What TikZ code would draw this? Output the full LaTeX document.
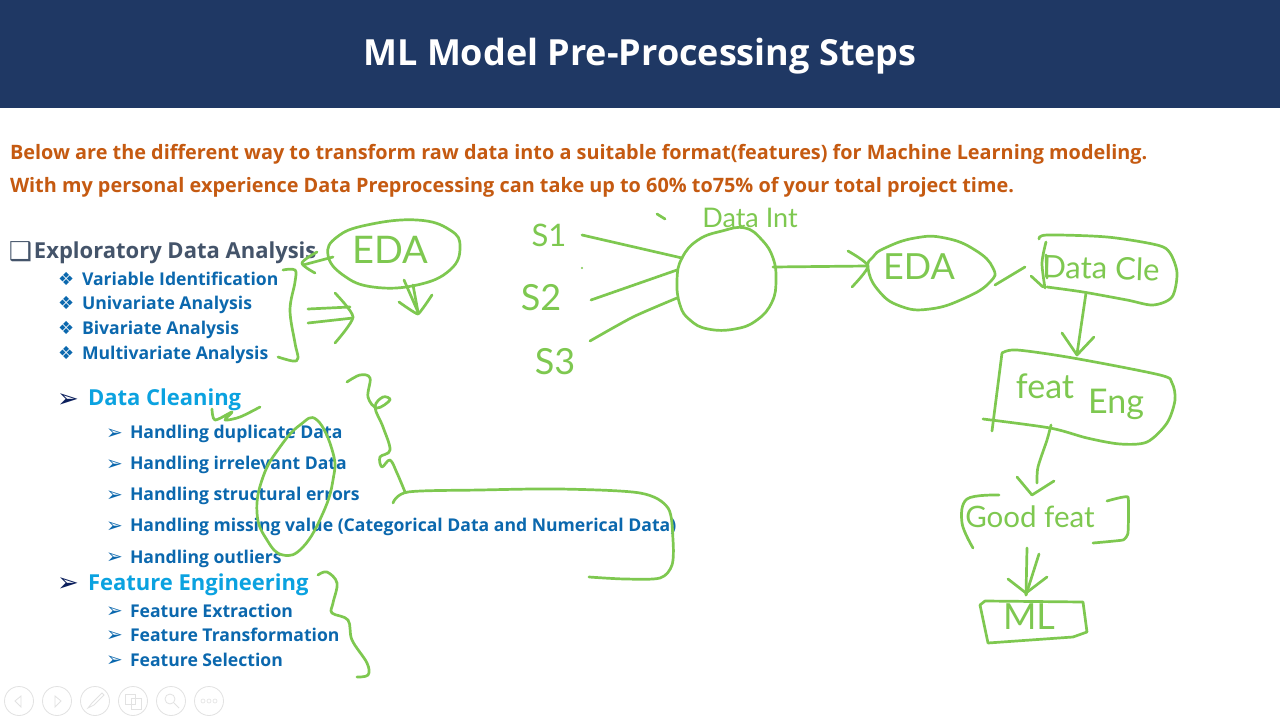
\documentclass[tikz,border=0pt]{standalone}
\usepackage{fontspec}
\setmainfont{Open Sans}
\newfontfamily\symfont{DejaVu Sans}
\newfontfamily\handfont{Lato}
\definecolor{band}{HTML}{1F3864}
\definecolor{rust}{HTML}{C55A11}
\definecolor{slatetx}{HTML}{44546A}
\definecolor{bluetx}{HTML}{0B68AE}
\definecolor{skytx}{HTML}{0BA2E0}
\definecolor{navyarrow}{HTML}{0B1F5C}
\definecolor{inkgreen}{HTML}{7EC850}
\definecolor{navgray}{HTML}{E2E2E2}
\tikzset{
  txt/.style={anchor=base west,inner sep=0pt,outer sep=0pt},
  headtx/.style={txt,font=\fontsize{36}{42}\selectfont\bfseries,text=white},
  introtx/.style={txt,font=\fontsize{19.85}{24}\selectfont\bfseries,text=rust},
  edatx/.style={txt,font=\fontsize{22}{26}\selectfont\bfseries,text=slatetx},
  subtx/.style={txt,font=\fontsize{17.6}{22}\selectfont\bfseries,text=bluetx},
  sectx/.style={txt,font=\fontsize{22}{26}\selectfont\bfseries,text=skytx},
  diam/.style={txt,font=\fontsize{18}{20}\selectfont\symfont,text=bluetx},
  arrowsub/.style={txt,font=\fontsize{20}{22}\selectfont\symfont,text=bluetx},
  arrowsec/.style={txt,font=\fontsize{26}{28}\selectfont\symfont,text=navyarrow},
  ink/.style={draw=inkgreen,line width=2.7pt,line cap=round,line join=round},
  hand/.style={inner sep=0pt,text=inkgreen,font=\handfont},
  nav/.style={draw=navgray,line width=0.8pt},
}
\begin{document}
\begin{tikzpicture}[x=1pt,y=-1pt]
\useasboundingbox (0,0) rectangle (1280,720);
\fill[white] (0,0) rectangle (1280,720);
\fill[band] (0,0) rectangle (1280,108);

\node[headtx,anchor=base] (title) at (640,65) {ML Model Pre-Processing Steps};
\node[introtx] (intro1) at (10,159) {Below are the different way to transform raw data into a suitable format(features) for Machine Learning modeling.};
\node[introtx] (intro2) at (10,192) {With my personal experience Data Preprocessing can take up to 60\% to75\% of your total project time.};

\node[txt,font=\fontsize{26}{28}\selectfont\symfont,text=slatetx] (b0) at (9,260) {❑};
\node[edatx] (eda) at (34,258) {Exploratory Data Analysis};

\node[diam] (d1) at (58,285) {❖};
\node[subtx] (v1) at (82,285) {Variable Identification};
\node[diam] (d2) at (58,309) {❖};
\node[subtx] (v2) at (82,309) {Univariate Analysis};
\node[diam] (d3) at (58,334) {❖};
\node[subtx] (v3) at (82,334) {Bivariate Analysis};
\node[diam] (d4) at (58,359) {❖};
\node[subtx] (v4) at (82,359) {Multivariate Analysis};

\node[arrowsec] (a1) at (57,407) {➢};
\node[sectx] (dc) at (88,405) {Data Cleaning};
\node[arrowsub] (a2) at (106,439) {➢};
\node[subtx] (h1) at (130,438) {Handling duplicate Data};
\node[arrowsub] (a3) at (106,470) {➢};
\node[subtx] (h2) at (130,469) {Handling irrelevant Data};
\node[arrowsub] (a4) at (106,501) {➢};
\node[subtx] (h3) at (130,500) {Handling structural errors};
\node[arrowsub] (a5) at (106,532) {➢};
\node[subtx] (h4) at (130,531) {Handling missing value (Categorical Data and Numerical Data)};
\node[arrowsub] (a6) at (106,563) {➢};
\node[subtx] (h5) at (130,563) {Handling outliers};
\node[arrowsec] (a7) at (57,591) {➢};
\node[sectx] (fe) at (88,590) {Feature Engineering};
\node[arrowsub] (a8) at (106,617) {➢};
\node[subtx] (f1) at (130,617) {Feature Extraction};
\node[arrowsub] (a9) at (106,641) {➢};
\node[subtx] (f2) at (130,641) {Feature Transformation};
\node[arrowsub] (a10) at (106,666) {➢};
\node[subtx] (f3) at (130,666) {Feature Selection};

% slide-show controls
\foreach \cx/\nm in {19/n1,57/n2,95/n3,133/n4,171/n5,209/n6}{\draw[nav] (\cx,701) circle (14.5);}
\draw[nav] (21,696) -- (15,701) -- (21,707) -- cycle;
\draw[nav] (55,696) -- (61,701) -- (55,707) -- cycle;
\draw[nav] (88,708) -- (92,703) -- (102,693) -- (104,695) -- (94,705) -- cycle;
\draw[nav] (125,694) rectangle (135,704);
\draw[nav] (131,698) rectangle (141,709);
\draw[nav] (170,699) circle (5);
\draw[nav] (174,703) -- (179,708);
\foreach \dx in {203,209,215}{\draw[nav,line width=0.6pt] (\dx,701) circle (2);}

% hand-written labels
\node[hand,font=\handfont\fontsize{38}{44}\selectfont] (edaA) at (390,250) {EDA};
\node[hand,font=\handfont\fontsize{36}{42}\selectfont] (edaB) at (919,267) {EDA};
\node[hand,font=\handfont\fontsize{31}{36}\selectfont] (s1) at (549,235) {S1};
\node[hand,font=\handfont\fontsize{36}{40}\selectfont] (s2) at (541,298) {S2};
\node[hand,font=\handfont\fontsize{36}{40}\selectfont] (s3) at (555,362) {S3};
\node[hand,font=\handfont\fontsize{27}{32}\selectfont] (dint) at (750,218) {Data Int};
\node[hand,font=\handfont\fontsize{31}{36}\selectfont,rotate=-2] (dcl) at (1101,268) {Data Cle};
\node[hand,font=\handfont\fontsize{34}{38}\selectfont] (fea) at (1045,386) {feat};
\node[hand,font=\handfont\fontsize{34}{38}\selectfont] (eng) at (1116,404) {Eng};
\node[hand,font=\handfont\fontsize{29.5}{34}\selectfont] (gf) at (1030,517) {Good feat};
\node[hand,font=\handfont\fontsize{36}{40}\selectfont] (ml) at (1029,617) {ML};

% connector ends
\coordinate (s1o) at (582,235); \coordinate (hubA) at (682,258);
\coordinate (s2o) at (591,300); \coordinate (hubB) at (677,270);
\coordinate (s3o) at (590,341); \coordinate (s3m) at (633,317); \coordinate (hubC) at (677,298);
\coordinate (hubR) at (773,267); \coordinate (edaBl) at (867,266);
\coordinate (ebR) at (995,285); \coordinate (dcL) at (1025,267);
\coordinate (dcB) at (1086,293); \coordinate (feT) at (1077,354);
\coordinate (feB) at (1051,425); \coordinate (gfT) at (1032,495);
\coordinate (gfB1) at (1027,548); \coordinate (gfB2) at (1039,554); \coordinate (mlT) at (1026,595);
\coordinate (eaL) at (333,257); \coordinate (eaT) at (303,265);
\coordinate (eaB1) at (404,280); \coordinate (eaB2) at (413,285); \coordinate (eaD) at (418,312);

% EDA (left) and its marks
\draw[ink] plot[smooth cycle,tension=0.75] coordinates {(328,255)(337,237)(367,225)(417,220)(450,230)(460,247)(450,270)(417,285)(373,287)(343,275)};
\draw[ink] (eaL) -- (eaT);
\draw[ink] plot[smooth,tension=0.5] coordinates {(317,252)(302,263)(315,273)};
\draw[ink] plot[smooth,tension=0.6] coordinates {(283,270)(295,270)(295,282)(290,310)(295,343)(298,358)(293,361)(278,357)};
\draw[ink] (308,309) -- (350,307);
\draw[ink] (308,323) -- (353,318);
\draw[ink] plot[smooth,tension=0.4] coordinates {(335,293)(353,317)(335,343)};
\draw[ink] (eaB1) -- (eaD);
\draw[ink] (eaB2) -- (eaD);
\draw[ink] plot[smooth,tension=0.2] coordinates {(399,302)(418,314)(432,295)};

% data cleaning marks
\draw[ink] plot[smooth,tension=0.5] coordinates {(212,409)(215,420)(232,412)(225,420)(240,417)(260,407)};
\draw[ink] plot[smooth cycle,tension=0.75] coordinates {(317,420)(333,453)(333,480)(323,513)(303,547)(283,555)(267,540)(257,513)(263,477)(280,447)(300,425)};
\draw[ink] plot[smooth,tension=0.6] coordinates {(347,382)(360,375)(370,378)(368,397)(377,408)(390,400)(383,397)(375,407)(383,427)(390,450)(380,457)(382,467)(390,460)(397,473)(405,492)};
\draw[ink] plot[smooth,tension=0.5] coordinates {(393,503)(408,492)(480,490)(560,489)(640,493)(668,508)(673,540)(672,565)(660,578)(625,579)(589,577)};
\draw[ink] plot[smooth,tension=0.6] coordinates {(318,575)(327,572)(337,583)(333,603)(332,613)(348,620)(352,640)(367,663)(368,675)(357,677)};

% sources and hub
\draw[ink] (657,214) -- (665,219);
\fill[inkgreen] (582,268) circle (1.2);
\draw[ink] plot[smooth cycle,tension=0.75] coordinates {(722,231)(745,228)(762,240)(773,258)(776,280)(772,302)(757,320)(735,329)(708,329)(690,320)(680,305)(677,280)(682,258)(698,240)};
\draw[ink] (s1o) -- (hubA);
\draw[ink] (s2o) -- (hubB);
\draw[ink] plot[smooth,tension=0.4] coordinates {(s3o)(s3m)(hubC)};
\draw[ink] (hubR) -- (edaBl);
\draw[ink] plot[smooth,tension=0.4] coordinates {(848,251)(868,266)(852,287)};

% right column
\draw[ink] plot[smooth cycle,tension=0.8] coordinates {(868,268)(873,257)(885,248)(915,238)(945,238)(975,250)(993,268)(990,282)(965,298)(930,309)(900,306)(878,290)};
\draw[ink] (ebR) -- (dcL);
\draw[ink] (1031,276) -- (1043,287);
\draw[ink] plot[smooth,tension=0.5] coordinates {(1039,239)(1047,235)(1107,237)(1157,245)(1170,253)(1177,273)(1172,297)(1153,305)(1127,300)(1083,292)(1047,287)};
\draw[ink] plot[smooth,tension=0.5] coordinates {(1046,242)(1042,263)(1045,288)};
\draw[ink] (1046,255) -- (1047,278);
\draw[ink] plot[smooth,tension=0.5] coordinates {(dcB)(1082,320)(feT)};
\draw[ink] (1062,333) -- (1077,355) -- (1094,337);
\draw[ink] plot[smooth,tension=0.5] coordinates {(1002,353)(1017,350)(1073,358)(1160,375)(1172,383)(1175,400)(1167,423)(1147,442)(1120,444)(1087,438)(1050,428)(983,419)};
\draw[ink] (1002,353) -- (992,431);
\draw[ink] plot[smooth,tension=0.5] coordinates {(feB)(1047,440)(1038,467)(1037,483)};
\draw[ink] (1017,477) -- (gfT) -- (1054,481);
\draw[ink] plot[smooth,tension=0.6] coordinates {(999,495)(967,499)(962,523)(973,548)};
\draw[ink] plot[smooth,tension=0.2] coordinates {(1107,501)(1128,497)(1128,533)(1123,540)(1093,543)};
\draw[ink] (gfB1) -- (mlT);
\draw[ink] (gfB2) -- (mlT);
\draw[ink] (1008,579) -- (1026,593) -- (1047,577);
\draw[ink] (980,605) -- (985,601) -- (1083,602) -- (1087,632) -- (1073,637) -- (988,643) -- cycle;
\end{tikzpicture}
\end{document}
